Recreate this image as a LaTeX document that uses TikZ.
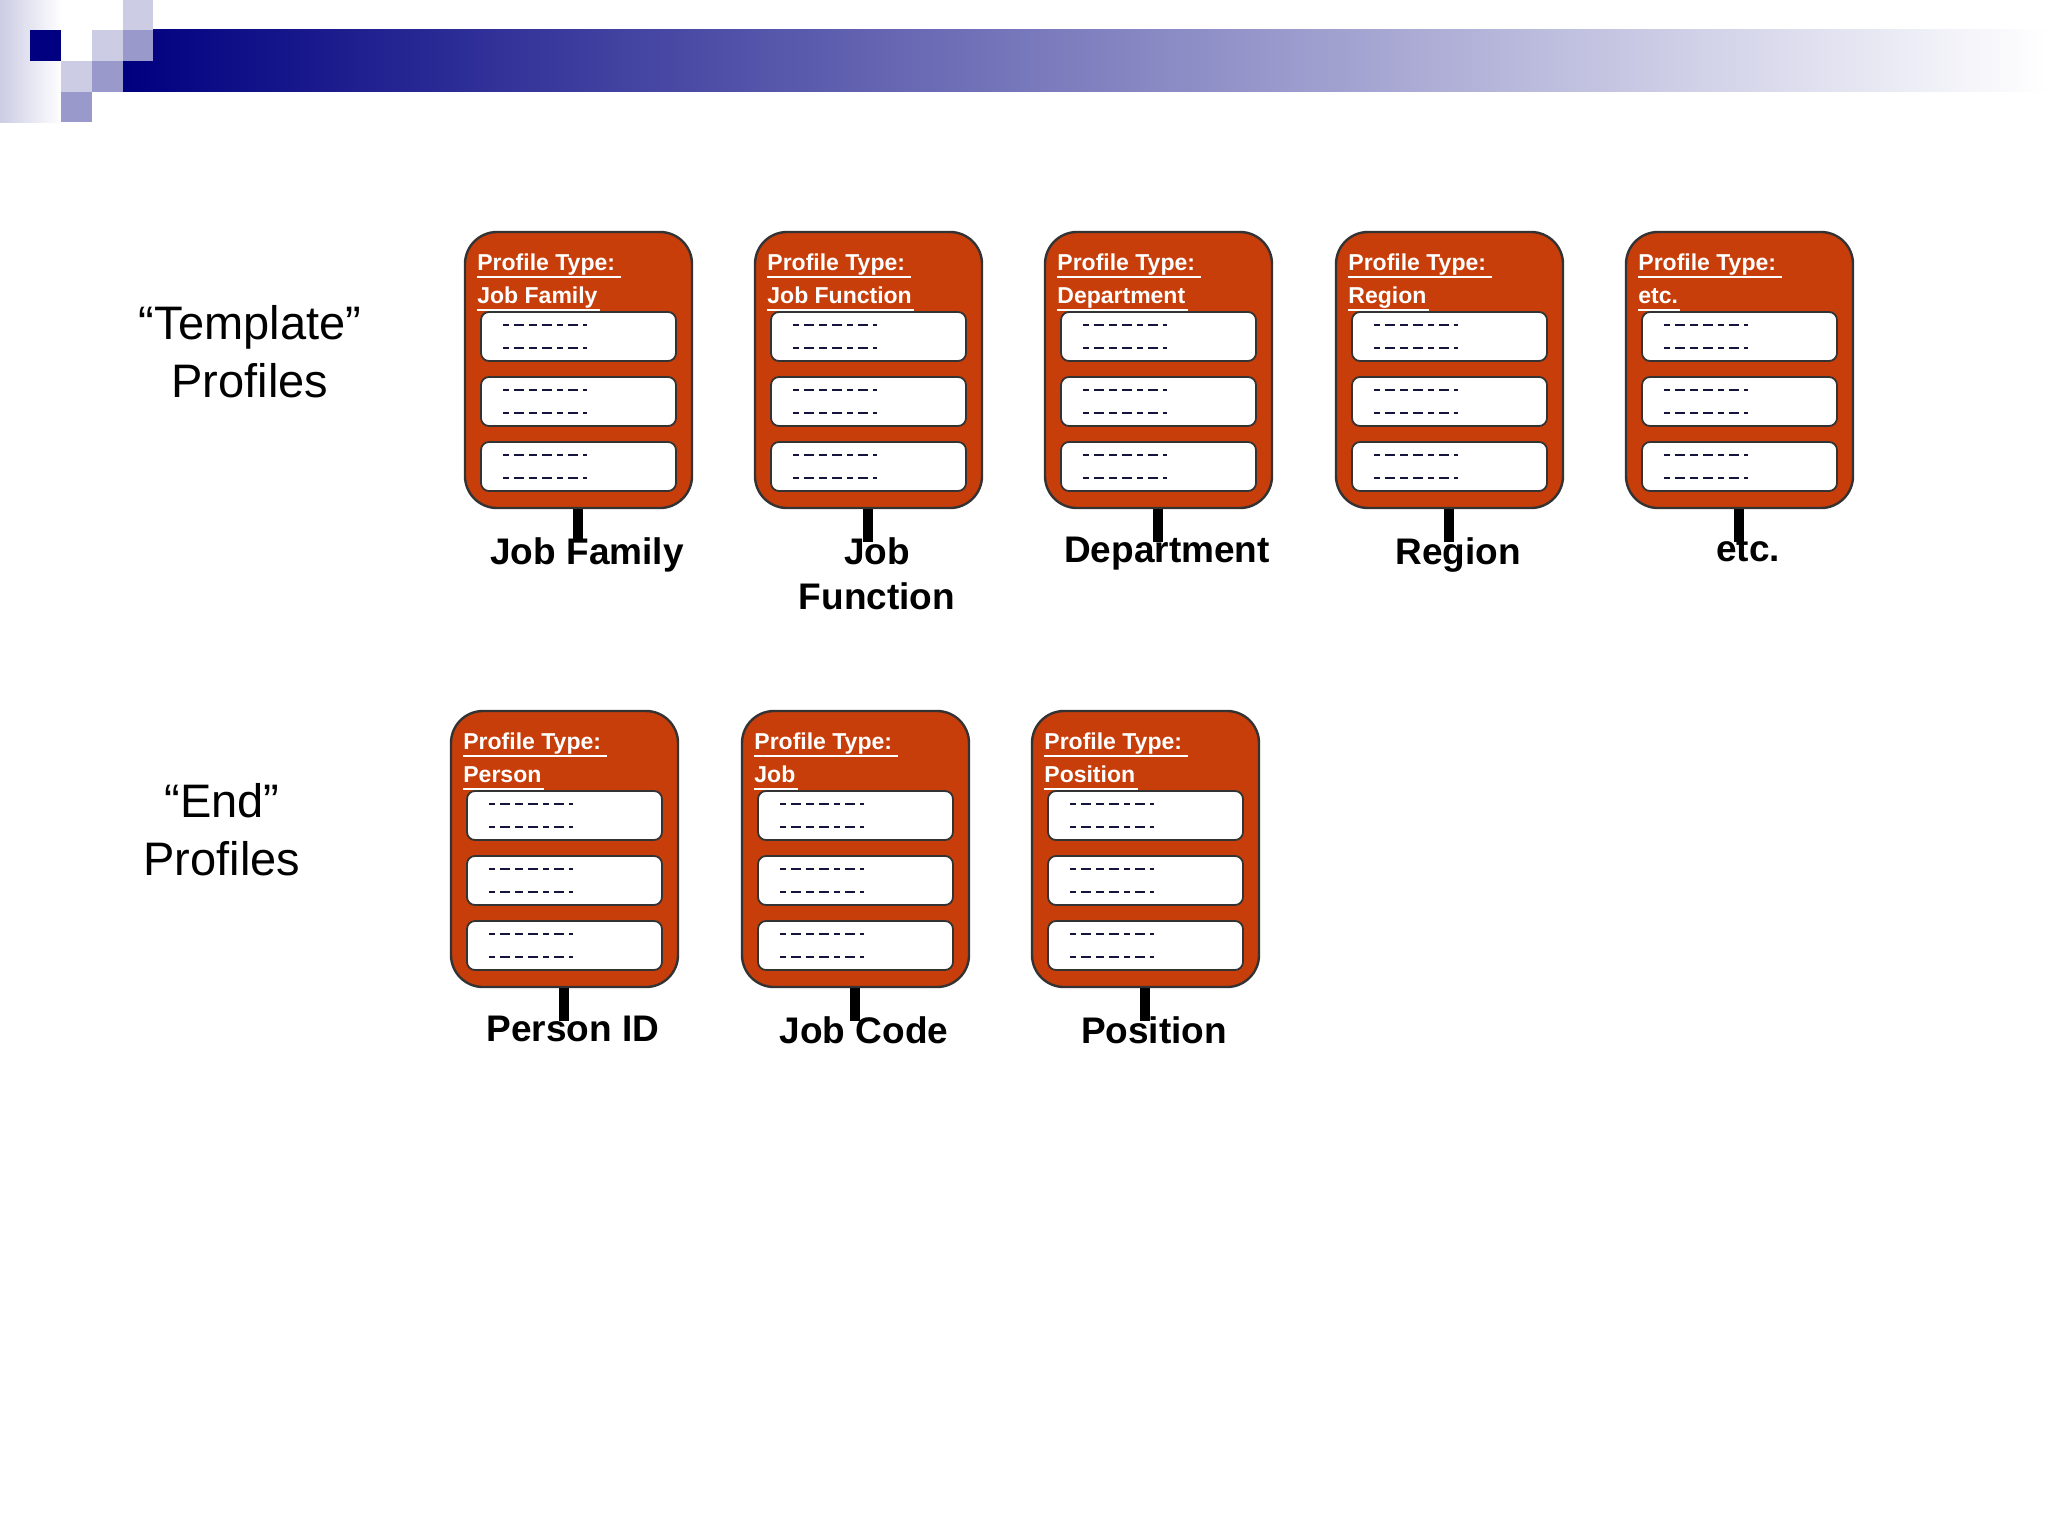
\documentclass[tikz,border=0pt]{standalone}
\usepackage{fontspec}
\setmainfont{Liberation Sans}
\definecolor{navy}{RGB}{0,0,128}
\definecolor{lav}{RGB}{204,204,228}
\definecolor{medlav}{RGB}{153,153,204}
\definecolor{cardred}{RGB}{200,62,10}
\definecolor{dashc}{RGB}{20,20,60}
\tikzset{
 cardbox/.style={draw=black!80, line width=1.2pt, fill=cardred, rounded corners=16pt},
 slot/.style={draw=black!80, line width=0.9pt, fill=white, rounded corners=4pt},
 dashline/.style={dashc, line width=0.9pt, dash pattern=on 3pt off 2.5pt on 5pt off 2.5pt on 4pt off 2.5pt on 5pt off 2.5pt},
 stem/.style={line width=5pt, black},
 ttl/.style={text=white, font=\fontsize{11.5}{13}\selectfont\bfseries, anchor=base west, inner sep=0pt},
 lbl/.style={font=\fontsize{18.5}{22.5}\selectfont\bfseries, align=center, anchor=north, inner sep=0pt},
 side/.style={font=\fontsize{23.5}{29}\selectfont, align=center, inner sep=0pt}
}
\newcommand\profcard[6]{% name, x, y, title2, label, label dx
 \begin{scope}[shift={(#2,#3)}]
 \coordinate (#1-c) at (113,0);
 \draw[stem] (113,270) -- (113,310);
 \node[lbl] (#1-l) at (113+#6,0+305) {#5};
 \draw[cardbox] (0,0) rectangle (227,276);
 \node[ttl] (#1-t1) at (12,38) {Profile Type:};
 \node[ttl] (#1-t2) at (12,71) {#4};
 \draw[white, line width=1pt] ($(#1-t1.base west)+(0,7)$) -- ($(#1-t1.base east)+(6,7)$);
 \draw[white, line width=1pt] ($(#1-t2.base west)+(0,7)$) -- ($(#1-t2.base east)+(2,7)$);
 \foreach \yy in {80,145,210}{
   \draw[slot] (16,\yy) rectangle (211,\yy+49);
   \draw[dashline] (38,\yy+13) -- (122,\yy+13);
   \draw[dashline] (38,\yy+36) -- (122,\yy+36);
 }
 \end{scope}}
\usetikzlibrary{calc}
\begin{document}
\begin{tikzpicture}[x=0.5pt,y=-0.5pt]
\useasboundingbox (0,0) rectangle (2048,1536);
% header
\shade[left color=lav, right color=white] (0,0) rectangle (62,122);
\shade[left color=navy, right color=white] (123,30) rectangle (2048,92);
\fill[navy] (30,30) rectangle (61,61);
\fill[lav] (92,30) rectangle (123,61);
\fill[medlav] (123,30) rectangle (153,61);
\fill[lav] (123,0) rectangle (153,30);
\fill[lav] (61,61) rectangle (92,92);
\fill[medlav] (92,61) rectangle (123,92);
\fill[medlav] (61,92) rectangle (92,122);
% side labels
\node[side] (tmpl) at (250,352) {“Template”\\Profiles};
\node[side] (endp) at (222,830) {“End”\\Profiles};
% template cards
\profcard{jf}{465}{232}{Job Family}{Job Family}{9}
\profcard{jfn}{755}{232}{Job Function}{Job\\Function}{9}
\profcard{dep}{1045}{232}{Department}{Department}{9}
\profcard{reg}{1336}{232}{Region}{Region}{9}
\profcard{etc}{1626}{232}{etc.}{etc.}{9}
% end cards
\profcard{per}{451}{711}{Person}{Person ID}{9}
\profcard{job}{742}{711}{Job}{Job Code}{9}
\profcard{pos}{1032}{711}{Position}{Position}{9}
\end{tikzpicture}
\end{document}
